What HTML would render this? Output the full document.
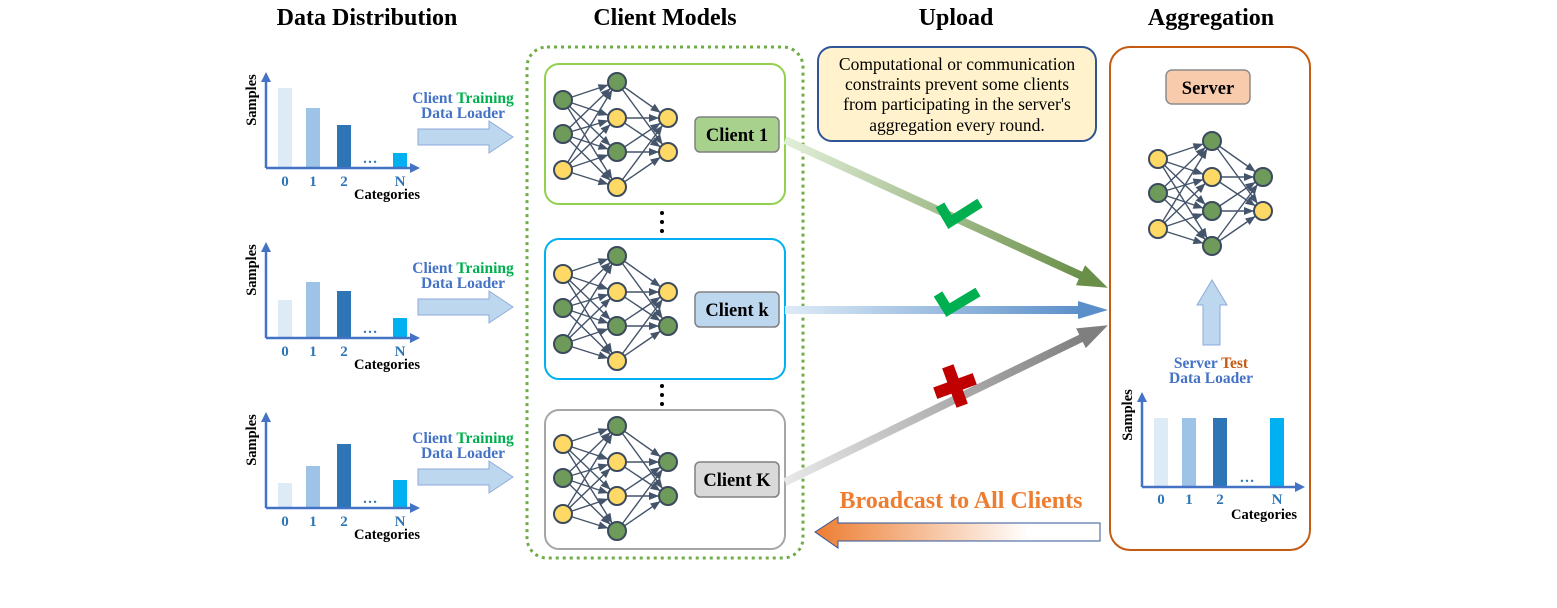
<!DOCTYPE html>
<html><head><meta charset="utf-8"><style>
html,body{margin:0;padding:0;background:#fff;}
svg{display:block;font-family:"Liberation Serif",serif;}
.t{font-weight:bold;font-size:24px;text-anchor:middle;fill:#000}
.ax{font-weight:bold;font-size:14.5px;fill:#000}
.nm{font-weight:bold;font-size:15px;fill:#2e75b6;text-anchor:middle}
.lb{font-weight:bold;font-size:15.5px;text-anchor:middle}
</style></head><body>
<svg width="1557" height="608" viewBox="0 0 1557 608" xmlns="http://www.w3.org/2000/svg">
<defs>
<marker id="ah" markerUnits="userSpaceOnUse" markerWidth="30" markerHeight="10" refX="19" refY="4" orient="auto" style="overflow:visible"><path d="M0,0 L10,4 L0,8 z" fill="#44546a"/></marker>
<marker id="ax" markerUnits="userSpaceOnUse" markerWidth="12" markerHeight="12" refX="2" refY="5" orient="auto" style="overflow:visible"><path d="M0,0 L10,5 L0,10 z" fill="#4472c4"/></marker>
<g id="net" stroke="#44546a" stroke-width="1.4" marker-end="url(#ah)">
<line x1="0" y1="18" x2="54" y2="0"/><line x1="0" y1="18" x2="54" y2="36"/><line x1="0" y1="18" x2="54" y2="70"/><line x1="0" y1="18" x2="54" y2="105"/>
<line x1="0" y1="52" x2="54" y2="0"/><line x1="0" y1="52" x2="54" y2="36"/><line x1="0" y1="52" x2="54" y2="70"/><line x1="0" y1="52" x2="54" y2="105"/>
<line x1="0" y1="88" x2="54" y2="0"/><line x1="0" y1="88" x2="54" y2="36"/><line x1="0" y1="88" x2="54" y2="70"/><line x1="0" y1="88" x2="54" y2="105"/>
<line x1="54" y1="0" x2="105" y2="36"/><line x1="54" y1="0" x2="105" y2="70"/>
<line x1="54" y1="36" x2="105" y2="36"/><line x1="54" y1="36" x2="105" y2="70"/>
<line x1="54" y1="70" x2="105" y2="36"/><line x1="54" y1="70" x2="105" y2="70"/>
<line x1="54" y1="105" x2="105" y2="36"/><line x1="54" y1="105" x2="105" y2="70"/>
</g>
<linearGradient id="gG"><stop offset="0" stop-color="#e2efd9"/><stop offset="1" stop-color="#6a8f48"/></linearGradient>
<linearGradient id="gB"><stop offset="0" stop-color="#deebf7"/><stop offset="1" stop-color="#5b8fc9"/></linearGradient>
<linearGradient id="gK"><stop offset="0" stop-color="#e8e8e8"/><stop offset="1" stop-color="#7f7f7f"/></linearGradient>
<linearGradient id="gO"><stop offset="0" stop-color="#ed7d31"/><stop offset="0.75" stop-color="#fff"/><stop offset="1" stop-color="#fff"/></linearGradient>
</defs>

<text class="t" x="367" y="25">Data Distribution</text>
<text class="t" x="665" y="25">Client Models</text>
<text class="t" x="956" y="25">Upload</text>
<text class="t" x="1211" y="25">Aggregation</text>

<g>
<rect x="278" y="88" width="14" height="80" fill="#ddebf7"/><rect x="306" y="108" width="14" height="60" fill="#9dc3e6"/><rect x="337" y="125" width="14" height="43" fill="#2e75b6"/><rect x="393" y="153" width="14" height="15" fill="#00b0f0"/>
</g>
<g transform="translate(0,170)">
<rect x="278" y="130" width="14" height="38" fill="#ddebf7"/><rect x="306" y="112" width="14" height="56" fill="#9dc3e6"/><rect x="337" y="121" width="14" height="47" fill="#2e75b6"/><rect x="393" y="148" width="14" height="20" fill="#00b0f0"/>
</g>
<g transform="translate(0,340)">
<rect x="278" y="143" width="14" height="25" fill="#ddebf7"/><rect x="306" y="126" width="14" height="42" fill="#9dc3e6"/><rect x="337" y="104" width="14" height="64" fill="#2e75b6"/><rect x="393" y="140" width="14" height="28" fill="#00b0f0"/>
</g>
<g id="axes1">
<line x1="266" y1="168" x2="266" y2="80" stroke="#4472c4" stroke-width="2.5" marker-end="url(#ax)"/>
<line x1="266" y1="168" x2="412" y2="168" stroke="#4472c4" stroke-width="2.5" marker-end="url(#ax)"/>
<text class="nm" x="285" y="186">0</text><text class="nm" x="313" y="186">1</text><text class="nm" x="344" y="186">2</text><text class="nm" x="400" y="186">N</text>
<text class="nm" x="370" y="163">…</text>
<text class="ax" x="387" y="199" text-anchor="middle">Categories</text>
<text class="ax" transform="translate(256,100) rotate(-90)" text-anchor="middle">Samples</text>
</g>
<use href="#axes1" y="170"/>
<use href="#axes1" y="340"/>

<g id="dl">
<text class="lb" x="463" y="103"><tspan fill="#4472c4">Client </tspan><tspan fill="#00b050">Training</tspan></text>
<text class="lb" x="463" y="118" fill="#4472c4">Data Loader</text>
<path d="M418,129 L489,129 L489,121 L513,137 L489,153 L489,145 L418,145 z" fill="#bdd7ee" stroke="#8faadc" stroke-width="1"/>
</g>
<use href="#dl" y="170"/>
<use href="#dl" y="340"/>

<rect x="527" y="47" width="276" height="511" rx="20" fill="none" stroke="#70ad47" stroke-width="3" stroke-dasharray="3,4"/>
<rect x="545" y="64" width="240" height="140" rx="14" fill="#fff" stroke="#92d050" stroke-width="2"/>
<rect x="545" y="239" width="240" height="140" rx="14" fill="#fff" stroke="#00b0f0" stroke-width="2"/>
<rect x="545" y="410" width="240" height="139" rx="14" fill="#fff" stroke="#a6a6a6" stroke-width="2"/>
<g fill="#000"><circle cx="662" cy="213" r="2"/><circle cx="662" cy="222" r="2"/><circle cx="662" cy="231" r="2"/>
<circle cx="662" cy="386" r="2"/><circle cx="662" cy="395" r="2"/><circle cx="662" cy="404" r="2"/></g>

<g stroke="#3b4a5e" stroke-width="2">
<g transform="translate(563,82)"><use href="#net"/>
<circle cx="0" cy="18" r="9" fill="#6e9a5a"/><circle cx="0" cy="52" r="9" fill="#6e9a5a"/><circle cx="0" cy="88" r="9" fill="#ffd966"/>
<circle cx="54" cy="0" r="9" fill="#6e9a5a"/><circle cx="54" cy="36" r="9" fill="#ffd966"/><circle cx="54" cy="70" r="9" fill="#6e9a5a"/><circle cx="54" cy="105" r="9" fill="#ffd966"/>
<circle cx="105" cy="36" r="9" fill="#ffd966"/><circle cx="105" cy="70" r="9" fill="#ffd966"/></g>
<g transform="translate(563,256)"><use href="#net"/>
<circle cx="0" cy="18" r="9" fill="#ffd966"/><circle cx="0" cy="52" r="9" fill="#6e9a5a"/><circle cx="0" cy="88" r="9" fill="#6e9a5a"/>
<circle cx="54" cy="0" r="9" fill="#6e9a5a"/><circle cx="54" cy="36" r="9" fill="#ffd966"/><circle cx="54" cy="70" r="9" fill="#6e9a5a"/><circle cx="54" cy="105" r="9" fill="#ffd966"/>
<circle cx="105" cy="36" r="9" fill="#ffd966"/><circle cx="105" cy="70" r="9" fill="#6e9a5a"/></g>
<g transform="translate(563,426)"><use href="#net"/>
<circle cx="0" cy="18" r="9" fill="#ffd966"/><circle cx="0" cy="52" r="9" fill="#6e9a5a"/><circle cx="0" cy="88" r="9" fill="#ffd966"/>
<circle cx="54" cy="0" r="9" fill="#6e9a5a"/><circle cx="54" cy="36" r="9" fill="#ffd966"/><circle cx="54" cy="70" r="9" fill="#ffd966"/><circle cx="54" cy="105" r="9" fill="#6e9a5a"/>
<circle cx="105" cy="36" r="9" fill="#6e9a5a"/><circle cx="105" cy="70" r="9" fill="#6e9a5a"/></g>
<g transform="translate(1158,141)"><use href="#net"/>
<circle cx="0" cy="18" r="9" fill="#ffd966"/><circle cx="0" cy="52" r="9" fill="#6e9a5a"/><circle cx="0" cy="88" r="9" fill="#ffd966"/>
<circle cx="54" cy="0" r="9" fill="#6e9a5a"/><circle cx="54" cy="36" r="9" fill="#ffd966"/><circle cx="54" cy="70" r="9" fill="#6e9a5a"/><circle cx="54" cy="105" r="9" fill="#6e9a5a"/>
<circle cx="105" cy="36" r="9" fill="#6e9a5a"/><circle cx="105" cy="70" r="9" fill="#ffd966"/></g>
</g>

<g stroke="#808080" stroke-width="1.5">
<rect x="695" y="117" width="84" height="35" rx="5" fill="#a9d18e"/>
<rect x="695" y="292" width="84" height="35" rx="5" fill="#bdd7ee"/>
<rect x="695" y="462" width="84" height="35" rx="5" fill="#d9d9d9"/>
</g>
<g font-weight="bold" font-size="18.5" text-anchor="middle" fill="#000">
<text x="737" y="141">Client 1</text><text x="737" y="316">Client k</text><text x="737" y="486">Client K</text>
</g>

<rect x="818" y="47" width="278" height="94" rx="14" fill="#fff2cc" stroke="#2f5597" stroke-width="2"/>
<g font-size="17.5" text-anchor="middle" fill="#000">
<text x="957" y="70">Computational or communication</text>
<text x="957" y="90">constraints prevent some clients</text>
<text x="957" y="110">from participating in the server's</text>
<text x="957" y="131">aggregation every round.</text>
</g>

<g transform="translate(785,140) rotate(24.6)"><rect x="0" y="-4" width="330" height="8" fill="url(#gG)"/><path d="M325,-11 L355,0 L325,11 z" fill="#6a8f48"/></g>
<g transform="translate(785,310)"><rect x="0" y="-4" width="298" height="8" fill="url(#gB)"/><path d="M293,-9 L323,0 L293,9 z" fill="#5b8fc9"/></g>
<g transform="translate(785,482) rotate(-25.9)"><rect x="0" y="-4" width="334" height="8" fill="url(#gK)"/><path d="M329,-11 L359,0 L329,11 z" fill="#7f7f7f"/></g>
<polyline points="940,205 950,222 980,203" fill="none" stroke="#00b050" stroke-width="10"/>
<polyline points="938,294 948,310 978,292" fill="none" stroke="#00b050" stroke-width="10"/>
<g transform="translate(955,386) rotate(-20)" fill="#c00000"><rect x="-21" y="-6" width="42" height="12"/><rect x="-6" y="-21" width="12" height="42"/></g>

<text x="961" y="508" font-weight="bold" font-size="24" fill="#ed7d31" text-anchor="middle">Broadcast to All Clients</text>
<path d="M815,532 L838,517 L838,523 L1100,523 L1100,541 L838,541 L838,548 z" fill="url(#gO)" stroke="#2f5597" stroke-width="1"/>

<rect x="1110" y="47" width="200" height="503" rx="20" fill="none" stroke="#c55a11" stroke-width="2"/>
<rect x="1166" y="70" width="84" height="34" rx="6" fill="#f8cbad" stroke="#8c8c8c" stroke-width="1.5"/>
<text x="1208" y="94" font-weight="bold" font-size="18.5" text-anchor="middle">Server</text>
<path d="M1203,345 L1203,305 L1197,305 L1212,280 L1227,305 L1220,305 L1220,345 z" fill="#bdd7ee" stroke="#8faadc" stroke-width="1"/>
<text class="lb" x="1211" y="368"><tspan fill="#4472c4">Server </tspan><tspan fill="#c55a11">Test</tspan></text>
<text class="lb" x="1211" y="383" fill="#4472c4">Data Loader</text>
<rect x="1154" y="418" width="14" height="69" fill="#ddebf7"/><rect x="1182" y="418" width="14" height="69" fill="#9dc3e6"/><rect x="1213" y="418" width="14" height="69" fill="#2e75b6"/><rect x="1270" y="418" width="14" height="69" fill="#00b0f0"/>
<line x1="1142" y1="487" x2="1142" y2="400" stroke="#4472c4" stroke-width="2.5" marker-end="url(#ax)"/>
<line x1="1142" y1="487" x2="1297" y2="487" stroke="#4472c4" stroke-width="2.5" marker-end="url(#ax)"/>
<text class="nm" x="1161" y="504">0</text><text class="nm" x="1189" y="504">1</text><text class="nm" x="1220" y="504">2</text><text class="nm" x="1277" y="504">N</text>
<text class="nm" x="1247" y="482">…</text>
<text class="ax" x="1264" y="519" text-anchor="middle">Categories</text>
<text class="ax" transform="translate(1132,415) rotate(-90)" text-anchor="middle">Samples</text>
</svg>
</body></html>
